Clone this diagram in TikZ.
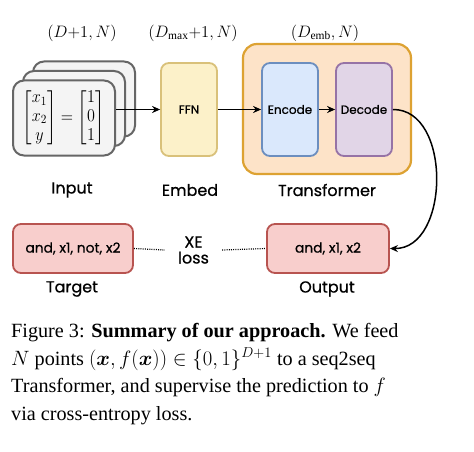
\documentclass[tikz,border=0pt]{standalone}
\usepackage{amsmath}
\usepackage{graphicx}
\usepackage{fontspec}
\setmainfont{Liberation Serif}
\newfontfamily\diag{Poppins}[FakeBold=0.6]
\usetikzlibrary{arrows.meta}
\definecolor{ingray}{HTML}{F4F4F4}
\definecolor{inborder}{HTML}{666666}
\definecolor{ffnfill}{HTML}{FCF1C9}
\definecolor{ffnborder}{HTML}{D9C17A}
\definecolor{trfill}{HTML}{FDE3C8}
\definecolor{trborder}{HTML}{DDA232}
\definecolor{encfill}{HTML}{DAE8FC}
\definecolor{encborder}{HTML}{6C8EBF}
\definecolor{decfill}{HTML}{E1D5E7}
\definecolor{decborder}{HTML}{9673A6}
\definecolor{redfill}{HTML}{F8CECC}
\definecolor{redborder}{HTML}{B85450}
\tikzset{
  inbox/.style={draw=inborder, fill=ingray, line width=2pt, rounded corners=11pt, minimum width=102pt, minimum height=75pt, inner sep=0pt},
  tallbox/.style={line width=1.8pt, rounded corners=8pt, minimum width=56pt, minimum height=93pt, inner sep=0pt, font=\diag\fontsize{12}{14}\selectfont},
  redbox/.style={draw=redborder, fill=redfill, line width=1.8pt, rounded corners=8pt, minimum height=49pt, inner sep=0pt, font=\diag\fontsize{13.8}{16}\selectfont},
  lbl/.style={font=\diag\fontsize{16}{18}\selectfont, inner sep=0pt},
  dimlbl/.style={font=\fontsize{14.4}{17}\selectfont, inner sep=0pt},
  arr/.style={line width=1.5pt, -{Stealth[length=8pt,width=7pt]}},
  dots/.style={line width=1.2pt, dash pattern=on 1pt off 1.2pt},
  captxt/.style={anchor=base west, inner sep=0pt, font=\fontsize{20.2}{24}\selectfont}
}
\begin{document}
\begin{tikzpicture}[x=1pt,y=-1pt]
\useasboundingbox[fill=white] (0,0) rectangle (474,452);
% dimension labels
\node[dimlbl] (d1) at (82,33) {\scalebox{1.15}{$(D{+}1,N)$}};
\node[dimlbl] (d2) at (193,33) {\scalebox{1.15}{$(D_{\max}{+}1,N)$}};
\node[dimlbl] (d3) at (325,33) {\scalebox{1.15}{$(D_{\mathrm{emb}},N)$}};
% input stack
\node[inbox] (in2) at (84,99) {};
\node[inbox] (in1) at (74,108.5) {};
\node[inbox] (in) at (64,118) {};
\node[inner sep=0pt, font=\fontsize{14.4}{15}\selectfont] (mat) at (63.5,117.5) {\scalebox{1.12}[1.25]{\renewcommand{\arraystretch}{1.0}$\begin{bmatrix}x_1\\x_2\\y\end{bmatrix}=\begin{bmatrix}1\\0\\1\end{bmatrix}$}};
% FFN
\node[tallbox, draw=ffnborder, fill=ffnfill] (ffn) at (189,109.5) {FFN};
% transformer
\node[draw=trborder, fill=trfill, line width=2.2pt, rounded corners=14pt, minimum width=168pt, minimum height=130pt] (tr) at (327,109) {};
\node[tallbox, draw=encborder, fill=encfill] (enc) at (290,109.5) {Encode};
\node[tallbox, draw=decborder, fill=decfill] (dec) at (364,109.5) {Decode};
% labels
\node[lbl] (linput) at (72,190) {Input};
\node[lbl] (lembed) at (190,190) {Embed};
\node[lbl] (ltr) at (327,190) {Transformer};
% bottom row
\node[redbox, minimum width=120pt] (tgt) at (73,248.5) {and, x1, not, x2};
\node[redbox, minimum width=122pt] (out) at (328,248.5) {and, x1, x2};
\node[lbl, align=center, minimum width=57pt] (xe) at (193.5,250) {XE\\[-2pt]loss};
\node[lbl] (ltgt) at (72,289) {Target};
\node[lbl] (lout) at (327,289) {Output};
% connectors
\draw[arr] (in.east |- ffn.west) -- (ffn.west);
\draw[arr] (ffn.east) -- (enc.west);
\draw[arr] (enc.east) -- (dec.west);
\draw[arr] (dec.east) .. controls (452,109) and (450,249) .. (out.east);
\draw[dots] (tgt.east) -- (xe.west);
\draw[dots] (xe.east) -- (out.west);
% caption
\node[captxt] (c1) at (11,337) {Figure 3: \textbf{Summary of our approach.} We feed};
\node[captxt] (c2) at (11,365) {$N$ points $(\boldsymbol{x},f(\boldsymbol{x}))\in\{0,1\}^{D+1}$ to a seq2seq};
\node[captxt] (c3) at (11,392) {Transformer, and supervise the prediction to $f$};
\node[captxt] (c4) at (11,420) {via cross-entropy loss.};
\end{tikzpicture}
\end{document}
